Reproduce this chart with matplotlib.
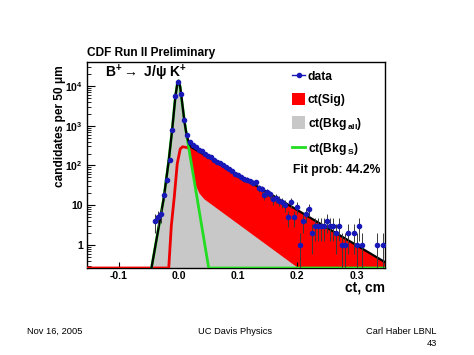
import numpy as np
import matplotlib
matplotlib.use("Agg")
import matplotlib.pyplot as plt
from matplotlib.lines import Line2D
from matplotlib.patches import Patch
from matplotlib.ticker import FixedLocator, FixedFormatter, LogLocator, NullFormatter

plt.rcParams['font.family'] = ['Liberation Sans', 'DejaVu Sans']
plt.rcParams['mathtext.fontset'] = 'custom'
plt.rcParams['mathtext.rm'] = 'Liberation Sans:bold'
plt.rcParams['mathtext.it'] = 'Liberation Sans:bold'
plt.rcParams['mathtext.bf'] = 'Liberation Sans:bold'

# binned data, 50 um bins (ct in cm), empty bins left out
ct_data = [-0.040, -0.035, -0.030, -0.025, -0.020, -0.015, -0.010, -0.005, 0.000,
           0.005, 0.010, 0.015, 0.020, 0.025, 0.030, 0.035, 0.040, 0.045, 0.050,
           0.055, 0.060, 0.065, 0.070, 0.075, 0.080, 0.085, 0.090, 0.095, 0.100,
           0.105, 0.110, 0.115, 0.120, 0.125, 0.130, 0.135, 0.140, 0.145, 0.150,
           0.155, 0.160, 0.165, 0.170, 0.175, 0.180, 0.185, 0.190, 0.195, 0.200,
           0.205, 0.210, 0.215, 0.220, 0.225, 0.230, 0.235, 0.240, 0.245, 0.250,
           0.255, 0.260, 0.265, 0.270, 0.275, 0.280, 0.285, 0.295, 0.300, 0.305,
           0.310, 0.335, 0.345]
n_data = [4, 5, 6, 18, 42, 135, 780, 5600, 12800,
          6200, 1400, 600, 380, 330, 290, 250, 225, 196, 170,
          160, 140, 125, 115, 100, 92, 80, 72, 62, 58,
          50, 46, 44, 40, 36, 38, 27, 25, 18, 21,
          19, 14, 15, 13, 12, 10, 5, 12, 5, 9,
          1, 4, 6, 8, 2, 3, 3, 3, 3, 4,
          3, 3, 2, 3, 1, 1, 2, 2, 1, 3,
          1, 1, 1]

# fit curves
ct_total = [-0.0454, -0.040, -0.0247, -0.0163, -0.0106, -0.005, -0.002, 0.0005, 0.003,
            0.006, 0.010, 0.014, 0.018, 0.022, 0.030, 0.348]
y_total = [0.264, 0.75, 15, 133, 780, 5600, 11000, 13500, 9500,
           4200, 1300, 560, 360, 290, 245, 0.37]

ct_bkg_s = [-0.0454, -0.040, -0.0247, -0.0163, -0.0106, -0.005, -0.002, 0.0005, 0.003,
            0.006, 0.012, 0.051, 0.348]
y_bkg_s = [0.264, 0.75, 15, 133, 780, 5600, 11000, 13400, 9300,
           3900, 850, 0.264, 0.264]

ct_bkg_all = [-0.0454, -0.040, -0.0247, -0.0163, -0.0106, -0.005, -0.002, 0.0005, 0.003,
              0.006, 0.010, 0.014, 0.018, 0.0205, 0.0235, 0.028, 0.035, 0.043, 0.202]
y_bkg_all = [0.264, 0.75, 15, 133, 780, 5600, 11000, 13500, 9500,
             4200, 1300, 560, 340, 120, 60, 33, 20, 14.5, 0.264]

ct_sig = [-0.154, -0.0163, -0.012, -0.007, -0.002, 0.003, 0.007, 0.013, 0.020, 0.025]
y_sig = [0.264, 0.264, 3, 16, 110, 260, 295, 285, 268, 262]

y_floor = 0.264

fig = plt.figure(figsize=(4.74, 3.55), dpi=100)
ax = fig.add_axes([87 / 474, 87 / 355, 298 / 474, 206 / 355])

# stacked fills: total (red) under, background (grey) on top
ax.fill_between(ct_total, y_floor, y_total, color='#ff0000', lw=0, zorder=1)
ax.fill_between(ct_bkg_all, y_floor, y_bkg_all, color='#c8c8c8', lw=0, zorder=2)

ax.plot(ct_sig, y_sig, color='#ee0000', lw=2, zorder=3)
ax.plot(ct_bkg_s, y_bkg_s, color='#22dd22', lw=2, zorder=4)
ax.plot(ct_total, y_total, color='black', lw=1.6, zorder=5)

n = np.array(n_data, dtype=float)
err = np.sqrt(n)
ax.errorbar(ct_data, n, yerr=[np.minimum(err, n * 0.999), err], fmt='none',
            ecolor='#3a3a3a', elinewidth=0.7, zorder=6)
ax.plot(ct_data, n, 'o', color='#1818b8', markersize=3.0, zorder=7)

ax.set_yscale('log')
ax.set_xlim(-0.154, 0.348)
ax.set_ylim(y_floor, 40000)

x_ticks = [-0.1, 0.0, 0.1, 0.2, 0.3]
x_labels = ['-0.1', '0.0', '0.1', '0.2', '0.3']
y_ticks = [1, 10, 100, 1000, 10000]
y_labels = ['1', '10', r'$10^{2}$', r'$10^{3}$', r'$10^{4}$']

ax.xaxis.set_major_locator(FixedLocator(x_ticks))
ax.xaxis.set_major_formatter(FixedFormatter(x_labels))
ax.yaxis.set_major_locator(FixedLocator(y_ticks))
ax.yaxis.set_major_formatter(FixedFormatter(y_labels))
ax.yaxis.set_minor_locator(LogLocator(base=10, subs=np.arange(2, 10)))
ax.yaxis.set_minor_formatter(NullFormatter())
ax.tick_params(axis='both', which='both', direction='in', top=False, right=False)
ax.tick_params(axis='x', which='major', length=4, width=0.8, pad=2, labelsize=7.5)
ax.tick_params(axis='y', which='major', length=6, width=0.8, pad=3, labelsize=7.5)
ax.tick_params(axis='y', which='minor', length=3, width=0.6)
for lab in ax.get_xticklabels() + ax.get_yticklabels():
    lab.set_fontweight('bold')
for sp in ax.spines.values():
    sp.set_linewidth(1.0)

ax.text(0.0, 1.045, 'CDF Run II Preliminary', transform=ax.transAxes,
        ha='left', va='center', fontsize=8.6, fontweight='bold')
ax.text(0.06, 0.947, r'B$^{+}\rightarrow$ J/$\psi$ K$^{+}$', transform=ax.transAxes,
        ha='left', va='center', fontsize=10, fontweight='bold')
ax.text(-0.0906, 0.69, 'candidates per 50 \u03bcm', transform=ax.transAxes, rotation=90,
        ha='center', va='center', fontsize=8.6, fontweight='bold')
ax.text(1.0, -0.097, 'ct, cm', transform=ax.transAxes,
        ha='right', va='center', fontsize=10, fontweight='bold')

handles = [
    Line2D([], [], color='#1818b8', marker='o', markersize=3.0, lw=1),
    Patch(facecolor='#ff0000', edgecolor='none'),
    Patch(facecolor='#c8c8c8', edgecolor='none'),
    Line2D([], [], color='#22dd22', lw=2),
]
labels = ['data', 'ct(Sig)', r'ct(Bkg$_{\,all}$)', r'ct(Bkg$_{\,S}$)']
leg = ax.legend(handles, labels, loc='upper left', bbox_to_anchor=(0.68, 0.972),
                frameon=False, borderaxespad=0, borderpad=0.2,
                handlelength=1.1, handleheight=1.2, handletextpad=0.2,
                labelspacing=0.78, prop={'size': 8.7, 'weight': 'bold'})
ax.text(0.691, 0.476, 'Fit prob: 44.2%', transform=ax.transAxes,
        ha='left', va='center', fontsize=8.7, fontweight='bold')

fig.text(27 / 474, 1 - 331 / 355, 'Nov 16, 2005', ha='left', va='center', fontsize=6.7)
fig.text(235 / 474, 1 - 331 / 355, 'UC Davis Physics', ha='center', va='center', fontsize=6.7)
fig.text(437 / 474, 1 - 331 / 355, 'Carl Haber LBNL', ha='right', va='center', fontsize=6.7)
fig.text(437 / 474, 1 - 343 / 355, '43', ha='right', va='center', fontsize=6.7)

fig.savefig('out.png', dpi=100)
